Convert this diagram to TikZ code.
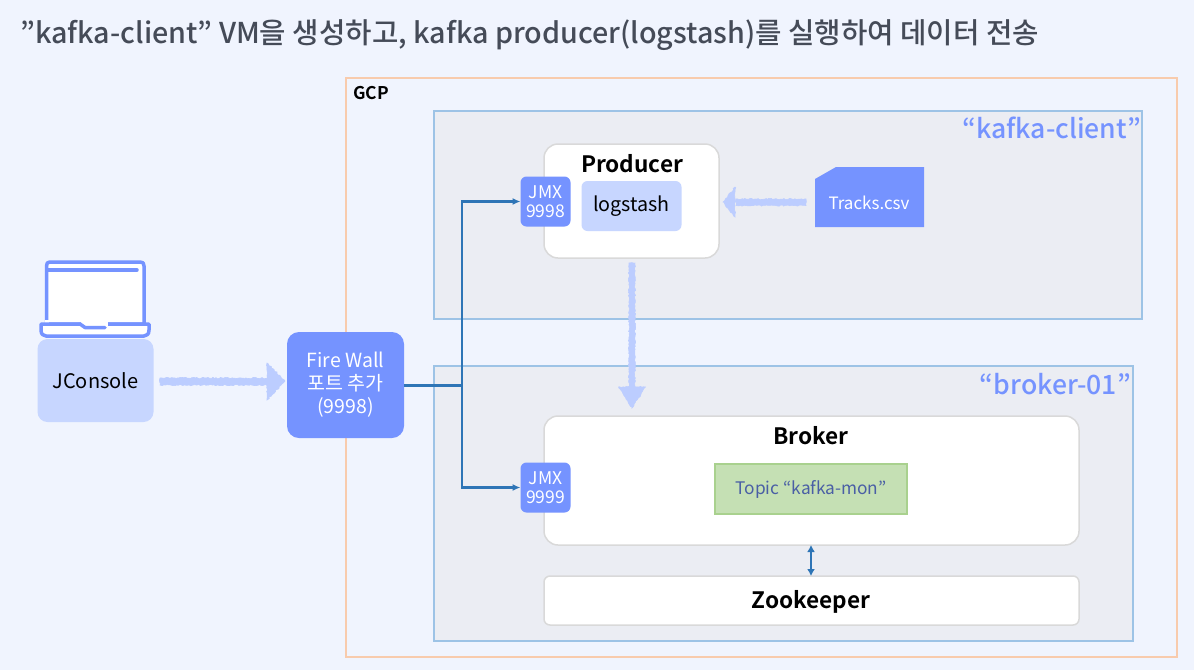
\documentclass[tikz,border=0pt]{standalone}
\usepackage{fontspec}
\setmainfont{Noto Sans CJK KR}
\newfontfamily\medfont{Noto Sans CJK KR Medium}
\newfontfamily\boldface{Noto Sans CJK KR Bold}
\usetikzlibrary{decorations.pathmorphing,calc,arrows.meta}
\definecolor{pagebg}{HTML}{F0F4FE}
\definecolor{vmbg}{HTML}{EBEDF3}
\definecolor{vmline}{HTML}{9DC3E6}
\definecolor{gcpline}{HTML}{F8CBAD}
\definecolor{bluefill}{HTML}{7593FF}
\definecolor{lightfill}{HTML}{C7D6FF}
\definecolor{roughc}{HTML}{BCCDFF}
\definecolor{wire}{HTML}{2E75B6}
\definecolor{cardline}{HTML}{D9D9D9}
\definecolor{titlec}{HTML}{454B58}
\definecolor{topicfill}{HTML}{C5E0B4}
\definecolor{topicline}{HTML}{A9D18E}
\definecolor{topictext}{HTML}{4A5FA5}
\tikzset{
  fs/.style={font=\fontsize{#1}{#1}\selectfont},
  at px/.style={inner sep=0pt,outer sep=0pt,anchor=north west},
  vmbox/.style={at px,draw=vmline,line width=1.5pt,fill=vmbg},
  card/.style={at px,draw=cardline,line width=1.5pt,fill=white,rounded corners=14pt},
  jmxbox/.style={at px,fill=bluefill,text=white,rounded corners=6pt,minimum width=50pt,minimum height=50pt,align=center,fs=17.5},
  vmtitle/.style={inner sep=0pt,anchor=east,text=bluefill,fs=26.6},
  heading/.style={inner sep=0pt,text=black,fs=22.6},
  wireline/.style={draw=wire,line width=2.5pt},
  rough/.style={fill=roughc,draw=roughc,line width=.6pt,decorate,decoration={random steps,segment length=1.6pt,amplitude=.7pt}},
}
\pgfmathsetseed{7}
\begin{document}
\begin{tikzpicture}[x=1pt,y=-1pt]
\useasboundingbox (0,0) rectangle (1194,670);
\fill[pagebg] (0,0) rectangle (1194,670);
\node[inner sep=0pt,anchor=base west,text=titlec,fs=28.7] (title) at (20,43) {\medfont ”kafka-client” VM을 생성하고, kafka producer(logstash)를 실행하여 데이터 전송};
% GCP
\node[at px,draw=gcpline,line width=1.5pt,minimum width=831pt,minimum height=579pt] (gcp) at (346,78) {};
\node[inner sep=0pt,anchor=base west,fs=17.5,text=black] (gcplabel) at (353,99) {\boldface GCP};
% VMs
\node[vmbox,minimum width=708pt,minimum height=208pt] (client) at (434,111) {};
\node[vmbox,minimum width=699pt,minimum height=275pt] (broker01) at (434,366) {};
\node[vmtitle] (clientlabel) at (1141,128) {\medfont “kafka-client”};
\node[vmtitle] (brokerlabel) at (1131,384) {\medfont “broker-01”};
% Producer
\node[card,minimum width=175pt,minimum height=114pt] (producer) at (544,144) {};
\node[heading] (producerlabel) at (632,164) {\boldface Producer};
\node[at px,fill=lightfill,rounded corners=6pt,minimum width=100pt,minimum height=50pt,fs=19.7] (logstash) at (581.5,181) {logstash};
% Broker
\node[card,minimum width=535pt,minimum height=129pt] (broker) at (544,416) {};
\node[heading] (brokerhead) at (811,436) {\boldface Broker};
\node[at px,fill=topicfill,draw=topicline,line width=1.2pt,minimum width=192pt,minimum height=50pt,text=topictext,fs=17.3] (topic) at (715,464) {Topic “kafka-mon”};
% Zookeeper
\node[card,rounded corners=6pt,minimum width=535pt,minimum height=49pt] (zk) at (544,576) {};
\node[heading] (zklabel) at (811,602) {\boldface Zookeeper};
% JMX
\node[jmxbox] (jmxa) at (520.5,176.5) {JMX\\[1.5pt]9998};
\node[jmxbox] (jmxb) at (520.5,462.5) {JMX\\[1.5pt]9999};
% Tracks
\fill[bluefill] (815,179) -- (836,167) -- (924,167) -- (924,227) -- (815,227) -- cycle;
\node[inner sep=0pt,text=white,fs=17] (tracks) at (869,203) {Tracks.csv};
% Laptop
\draw[bluefill,fill=white,line width=3.5pt,line cap=round,line join=round] (46.5,318) -- (46.5,266) .. controls (46.5,263) and (47.5,262) .. (50,262) -- (140,262) .. controls (143,262) and (144,263) .. (144,266) -- (144,324) -- (46.5,324) -- cycle;
\draw[white,line width=4pt] (46.5,320) -- (46.5,326);
\draw[bluefill,line width=3.5pt,line cap=round] (48,270) -- (137,270);
\draw[bluefill,fill=white,line width=3.5pt,line join=round] (41,324) -- (149,324) -- (149,330) .. controls (149,334) and (147,336) .. (144,336) -- (46,336) .. controls (43,336) and (41,334) .. (41,330) -- cycle;
\draw[white,line width=4.5pt] (81,324) -- (108,324);
\draw[bluefill,line width=3.5pt,line cap=round,line join=round] (80,324) -- (85,327.5) -- (105,327.5);
% JConsole
\node[at px,fill=lightfill,rounded corners=10pt,minimum width=116pt,minimum height=83pt,fs=20,text=black] (jconsole) at (37.5,339) {JConsole};
% Fire Wall
\node[at px,fill=bluefill,rounded corners=12pt,minimum width=117pt,minimum height=106pt,text=white,align=center,fs=19.5] (fw) at (287,332) {Fire Wall\\[3.5pt]포트 추가\\[3.5pt](9998)};
% wires
\coordinate (split) at (462,385);
\draw[wireline,line width=3pt] (fw.east) -- (split);
\draw[wireline,-{Latex[length=8pt,width=7pt]}] (split) |- (jmxa.west);
\draw[wireline,-{Latex[length=8pt,width=7pt]}] (split) |- (jmxb.west);
\draw[draw=wire,line width=2.5pt,{Latex[length=7pt,width=8pt]}-{Latex[length=7pt,width=8pt]}] (broker.south -| zklabel) -- (zk.north -| zklabel);
% rough arrows
\coordinate (a1) at ($(jconsole.east)+(6.5,0)$);
\coordinate (a2) at ($(fw.west)+(-2,-4)$);
\path[rough] (a1 |- 0,378) -- (268,378) -- (268,385) -- (a1 |- 0,385) -- cycle;
\path[rough] (267,363) -- (a2) -- (267,400) -- cycle;
\coordinate (b1) at (806,202);
\coordinate (b2) at ($(producer.east)+(4,1)$);
\path[rough] (b1 |- 0,199) -- (736,199) -- (736,205.5) -- (b1 |- 0,205.5) -- cycle;
\path[rough] (735,187) -- (b2) -- (735,217) -- cycle;
\path[rough] (629,263) -- (635,263) -- (635,390) -- (629,390) -- cycle;
\path[rough] (618.5,387) -- (632,408) -- (645.5,387) -- cycle;
\end{tikzpicture}
\end{document}
